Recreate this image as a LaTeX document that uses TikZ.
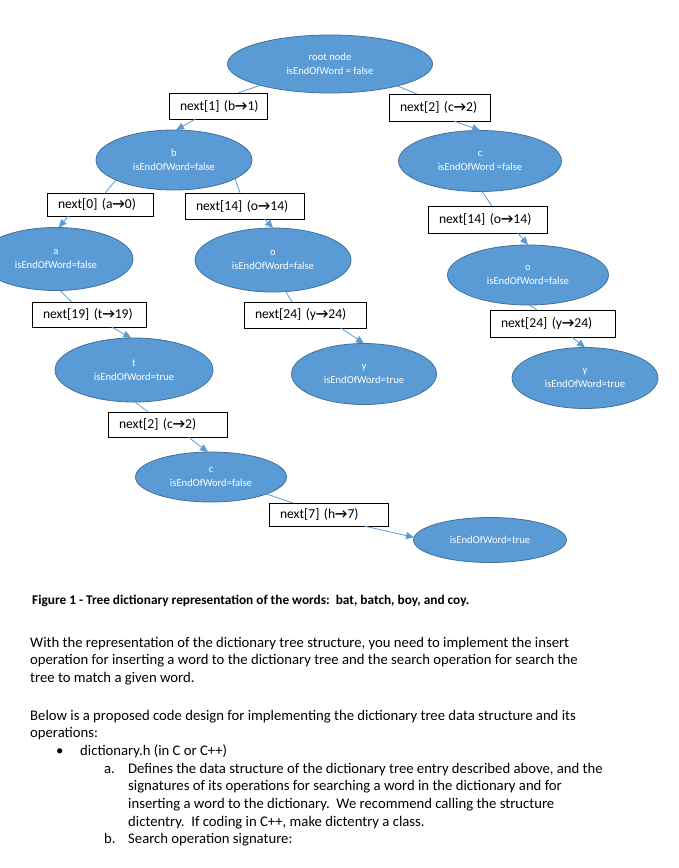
\documentclass[tikz,border=0pt]{standalone}
\usepackage{fontspec}
\setmainfont{Carlito}
\usetikzlibrary{arrows.meta,shapes.geometric}
\definecolor{nodeblue}{HTML}{5B9BD5}
\definecolor{nodeedge}{HTML}{41719C}
\newcommand\arr{\textbf{→}}
\tikzset{
  trienode/.style={ellipse, fill=nodeblue, draw=nodeedge, line width=0.8pt, text=white,
    font=\fontsize{10.6}{13.5}\selectfont, align=center, inner sep=0pt, outer sep=0pt},
  ptrbox/.style={rectangle, draw=black, line width=0.8pt, fill=white,
    font=\fontsize{13.6}{15}\selectfont, inner xsep=11pt, inner ysep=0pt, align=left,
    anchor=north west, outer sep=0pt},
  link/.style={draw=nodeblue, line width=0.8pt},
  arrowlink/.style={link, -{Triangle[length=8pt,width=7pt]}},
  bodytext/.style={anchor=base west, inner sep=0pt, font=\fontsize{14.7}{17}\selectfont},
  captext/.style={anchor=base west, inner sep=0pt, font=\fontsize{13.3}{15}\selectfont\bfseries}
}
\begin{document}
\begin{tikzpicture}[x=1pt,y=-1pt]
\useasboundingbox (0,0) rectangle (678,868);
\clip (0,0) rectangle (678,868);
% tree nodes
\node[trienode, minimum width=205pt, minimum height=58pt] (root) at (330,64) {root node\\isEndOfWord = false};
\node[trienode, minimum width=156pt, minimum height=60pt] (b) at (174,160) {b\\isEndOfWord=false};
\node[trienode, minimum width=163pt, minimum height=61pt] (cR) at (480,161) {c\\isEndOfWord =false};
\node[trienode, minimum width=154pt, minimum height=63pt] (a) at (56,259) {a\\isEndOfWord=false};
\node[trienode, minimum width=156pt, minimum height=64pt] (oL) at (273,260) {o\\isEndOfWord=false};
\node[trienode, minimum width=161pt, minimum height=60pt] (oR) at (528,275) {o\\isEndOfWord=false};
\node[trienode, minimum width=158pt, minimum height=64pt] (t) at (134,370) {t\\isEndOfWord=true};
\node[trienode, minimum width=145pt, minimum height=61pt] (yM) at (364,374) {y\\isEndOfWord=true};
\node[trienode, minimum width=146pt, minimum height=61pt] (yR) at (585,378) {y\\isEndOfWord=true};
\node[trienode, minimum width=151pt, minimum height=50pt] (cL) at (211,477) {c\\isEndOfWord=false};
\node[trienode, minimum width=153pt, minimum height=45pt] (last) at (490,540) {isEndOfWord=true};
% pointer boxes
\node[ptrbox, minimum width=98pt, minimum height=26pt, text width=76pt] (box1) at (169,93) {\mbox{next[1] (b\arr1)}};
\node[ptrbox, minimum width=101pt, minimum height=27pt, text width=79pt] (box2) at (389,94) {\mbox{next[2] (c\arr2)}};
\node[ptrbox, minimum width=106pt, minimum height=23pt, text width=84pt] (box0) at (47,193) {\mbox{next[0] (a\arr0)}};
\node[ptrbox, minimum width=119pt, minimum height=26pt, text width=97pt] (box14L) at (185,193) {\mbox{next[14] (o\arr14)}};
\node[ptrbox, minimum width=119pt, minimum height=27pt, text width=97pt] (box14R) at (428,206) {\mbox{next[14] (o\arr14)}};
\node[ptrbox, minimum width=114pt, minimum height=25pt, text width=92pt] (box19) at (32,302) {\mbox{next[19] (t\arr19)}};
\node[ptrbox, minimum width=122pt, minimum height=26pt, text width=100pt] (box24L) at (244,302) {\mbox{next[24] (y\arr24)}};
\node[ptrbox, minimum width=125pt, minimum height=27pt, text width=103pt] (box24R) at (490,310) {\mbox{next[24] (y\arr24)}};
\node[ptrbox, minimum width=119pt, minimum height=25pt, text width=97pt] (box2L) at (108,412) {\mbox{next[2] (c\arr2)}};
\node[ptrbox, minimum width=119pt, minimum height=23pt, text width=97pt] (box7) at (269,503) {\mbox{next[7] (h\arr7)}};
% connectors
\draw[link] (root.197.5) -- (box1.33);
\draw[arrowlink] (box1.210) -- (b.86);
\draw[link] (root.342) -- (box2.149);
\draw[arrowlink] (box2.317) -- (cR.90);
\draw[link] (b.199) -- (box0.66);
\draw[arrowlink] (box0.200) -- (a.85);
\draw[link] (b.343) -- (box14L.109);
\draw[arrowlink] (box14L.327) -- (oL.90);
\draw[link] (a.277) -- (box19.144);
\draw[arrowlink] (box19.331) -- (t.95);
\draw[link] (oL.292) -- (box24L.135);
\draw[arrowlink] (box24L.340) -- (yM.90);
\draw[link] (cR.274) -- (box14R.72);
\draw[arrowlink] (box14R.336) -- (oR.90);
\draw[link] (oR.273) -- (box24R.139);
\draw[arrowlink] (box24R.325) -- (yR.90);
\draw[link] (t.272) -- (box2L.147);
\draw[arrowlink] (box2L.329) -- (cL.97);
\draw[link] (cL.343) -- (box7.162);
\draw[arrowlink] (box7.342) -- (last.178);
% caption and body text
\node[captext] (cap) at (32,604) {Figure 1 - Tree dictionary representation of the words:\ \ bat, batch, boy, and coy.};
\node[bodytext] (p1) at (30,647) {With the representation of the dictionary tree structure, you need to implement the insert};
\node[bodytext] (p2) at (30,664.7) {operation for inserting a word to the dictionary tree and the search operation for search the};
\node[bodytext] (p3) at (30,682.4) {tree to match a given word.};
\node[bodytext] (q1) at (30,720) {Below is a proposed code design for implementing the dictionary tree data structure and its};
\node[bodytext] (q2) at (30,737.7) {operations:};
\node[bodytext] (bul) at (56,755.4) {•};
\node[bodytext] (q3) at (80,755.4) {dictionary.h (in C or C++)};
\node[bodytext] (la) at (104,773.1) {a.};
\node[bodytext] (q4) at (128,773.1) {Defines the data structure of the dictionary tree entry described above, and the};
\node[bodytext] (q5) at (128,790.8) {signatures of its operations for searching a word in the dictionary and for};
\node[bodytext] (q6) at (128,808.5) {inserting a word to the dictionary.\ \ We recommend calling the structure};
\node[bodytext] (q7) at (128,826.2) {dictentry.\ \ If coding in C++, make dictentry a class.};
\node[bodytext] (lb) at (104,843.9) {b.};
\node[bodytext] (q8) at (128,843.9) {Search operation signature:};
\end{tikzpicture}
\end{document}
